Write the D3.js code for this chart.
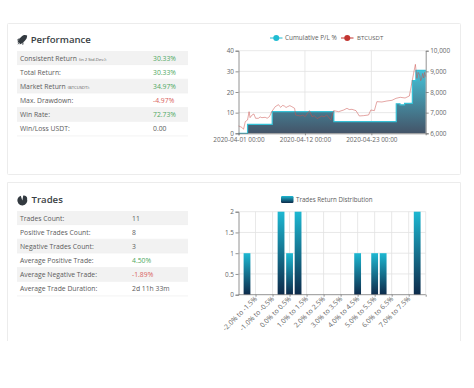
<!DOCTYPE html>
<html>
<head>
<meta charset="utf-8">
<script src="https://cdn.jsdelivr.net/npm/d3@7"></script>
<style>
  html, body { margin: 0; padding: 0; background: #fff; }
  svg { display: block; font-family: "Open Sans", sans-serif; }
  .axis text { font-size: 6.4px; fill: #666; font-family: "Open Sans", sans-serif; }
  .axis path, .axis line { stroke: #777; stroke-width: 0.8; }
  .grid line { stroke: #e2e2e2; stroke-width: 0.8; }
  .card { fill: #fff; stroke: #ececec; }
  .title { font-size: 9.6px; font-weight: 600; fill: #3a3f45; }
  .cell { font-size: 6.8px; fill: #5c5c5c; }
  .small { font-size: 4.2px; }
  .legend { font-size: 6.3px; fill: #5c5c5c; }
</style>
</head>
<body>
<svg id="chart" width="474" height="388"></svg>
<script>
// Data
const perfLabels = ['Consistent Return', 'Total Return:', 'Market Return', 'Max. Drawdown:', 'Win Rate:', 'Win/Loss USDT:'];
const perfNotes = ['(in 2 Std.Dev.):', '', '(BTCUSDT):', '', '', ''];
const perfValues = ['30.33%', '30.33%', '34.97%', '-4.97%', '72.73%', '0.00'];
const tradeLabels = ['Trades Count:', 'Positive Trades Count:', 'Negative Trades Count:', 'Average Positive Trade:', 'Average Negative Trade:', 'Average Trade Duration:'];
const tradeValues = ['11', '8', '3', '4.50%', '-1.89%', '2d 11h 33m'];

const plDates = ['2020-04-01 00:00', '2020-04-02 12:00', '2020-04-06 14:00', '2020-04-16 19:00', '2020-04-27 03:00', '2020-04-27 18:00', '2020-04-28 12:00', '2020-04-29 19:00', '2020-04-30 09:00', '2020-05-02 00:00'];
const plValues = [0, 4.3, 10.5, 5.7, 14.3, 13.8, 14.5, 25.5, 30.5, 30.5];

const btcDates = ['2020-04-01 00:00', '2020-04-01 07:00', '2020-04-01 13:00', '2020-04-01 20:00', '2020-04-02 03:00', '2020-04-02 12:00', '2020-04-02 18:00', '2020-04-02 22:00', '2020-04-03 06:00', '2020-04-03 13:00', '2020-04-03 20:00', '2020-04-04 07:00', '2020-04-04 14:00', '2020-04-04 21:00', '2020-04-05 10:00', '2020-04-05 18:00', '2020-04-06 03:00', '2020-04-06 12:00', '2020-04-07 02:00', '2020-04-07 15:00', '2020-04-07 20:00', '2020-04-08 00:00', '2020-04-08 07:00', '2020-04-08 14:00', '2020-04-08 21:00', '2020-04-09 03:00', '2020-04-09 12:00', '2020-04-09 20:00', '2020-04-10 07:00', '2020-04-10 11:00', '2020-04-11 05:00', '2020-04-11 15:00', '2020-04-12 01:00', '2020-04-12 18:00', '2020-04-13 04:00', '2020-04-13 14:00', '2020-04-14 00:00', '2020-04-14 19:00', '2020-04-15 04:00', '2020-04-15 15:00', '2020-04-16 07:00', '2020-04-16 18:00', '2020-04-17 14:00', '2020-04-18 10:00', '2020-04-18 23:00', '2020-04-19 08:00', '2020-04-19 19:00', '2020-04-20 11:00', '2020-04-21 00:00', '2020-04-21 17:00', '2020-04-22 13:00', '2020-04-22 22:00', '2020-04-23 12:00', '2020-04-23 22:00', '2020-04-24 18:00', '2020-04-25 14:00', '2020-04-26 10:00', '2020-04-27 02:00', '2020-04-27 19:00', '2020-04-28 14:00', '2020-04-29 07:00', '2020-04-29 14:00', '2020-04-30 00:00', '2020-04-30 07:00', '2020-04-30 13:00', '2020-04-30 18:00', '2020-05-01 00:00', '2020-05-01 04:00', '2020-05-01 07:00', '2020-05-01 12:00', '2020-05-01 16:00', '2020-05-01 20:00', '2020-05-02 00:00'];
const btcPrices = [6355, 6323, 6290, 6194, 6565, 6645, 7048, 6758, 6887, 6935, 6726, 6726, 6790, 6758, 6774, 6730, 6806, 7048, 7290, 7387, 7300, 7258, 7350, 7323, 7250, 7290, 7340, 7290, 7210, 6887, 6839, 6880, 6806, 7097, 6806, 6850, 6710, 6839, 6800, 6887, 6645, 7097, 7048, 7129, 7210, 7150, 7161, 7097, 6839, 6855, 6887, 7129, 7097, 7532, 7516, 7565, 7597, 7694, 7742, 7710, 7806, 8258, 8903, 9339, 8661, 8950, 8823, 8550, 8613, 8900, 8680, 8950, 8742];

const bins = ['-2.0% to -1.5%', '-1.5% to -1.0%', '-1.0% to -0.5%', '-0.5% to 0.0%', '0.0% to 0.5%', '0.5% to 1.0%', '1.0% to 1.5%', '1.5% to 2.0%', '2.0% to 2.5%', '2.5% to 3.0%', '3.0% to 3.5%', '3.5% to 4.0%', '4.0% to 4.5%', '4.5% to 5.0%', '5.0% to 5.5%', '5.5% to 6.0%', '6.0% to 6.5%', '6.5% to 7.0%', '7.0% to 7.5%', '7.5% to 8.0%', '8.0% to 8.5%'];
const binCounts = [1, 0, 0, 0, 2, 1, 2, 0, 0, 0, 0, 0, 0, 1, 0, 1, 1, 0, 0, 0, 2];

const svg = d3.select('#chart');
const defs = svg.append('defs');
const parse = d3.timeParse('%Y-%m-%d %H:%M');

// cards
svg.append('rect').attr('class', 'card').attr('x', 7.5).attr('y', 23.5).attr('width', 453).attr('height', 151).attr('rx', 1);
// second card has no bottom edge in the picture
svg.append('path').attr('class', 'card').attr('d', 'M7.5,341V182.5H460.5V341');

// tables
function drawTable(top, labels, notes, values, valueX) {
  const rowH = 14.15;
  const row = svg.append('g').selectAll('g').data(labels).join('g')
    .attr('transform', (d, i) => `translate(17, ${top + i * rowH})`);
  row.append('rect')
    .attr('width', 171).attr('height', rowH)
    .attr('fill', (d, i) => (i % 2 === 0 ? '#f2f2f2' : '#fff'));
  row.append('line')
    .attr('x2', 171).attr('y1', rowH).attr('y2', rowH)
    .attr('stroke', '#eee').attr('stroke-width', 0.7);
  const label = row.append('text').attr('class', 'cell').attr('x', 3).attr('y', 9.5).text((d) => d);
  label.append('tspan').attr('class', 'small').attr('dx', 2).text((d, i) => (notes ? notes[i] : ''));
  row.append('text').attr('class', 'cell').attr('x', valueX - 17).attr('y', 9.5)
    .text((d, i) => values[i])
    .style('fill', (d, i) => {
      const v = values[i];
      if (!v.endsWith('%')) return '#5c5c5c';
      return v.startsWith('-') ? '#d9605c' : '#4fa862';
    });
}
drawTable(51, perfLabels, perfNotes, perfValues, 153);
drawTable(211, tradeLabels, null, tradeValues, 132);

// titles and icons
svg.append('text').attr('class', 'title').attr('x', 30.7).attr('y', 43).text('Performance');
svg.append('text').attr('class', 'title').attr('x', 31.5).attr('y', 203).text('Trades');
// rocket
svg.append('path')
  .attr('transform', 'translate(17, 35) scale(0.75) translate(-17.5, -33.5)')
  .attr('d', 'M18 43 L21 38 L24 35 C26 33 29 33 31 34 C31 37 30 39 28 41 L25 44 L21 46 L21 44 Z M17.5 40 L21 37 L19 41 Z M24 46 L26 43 L26 46 Z M18 46 L19.5 44 L20.5 45 Z')
  .attr('fill', '#333a40');
// pie icon
const pieIcon = svg.append('g').attr('transform', 'translate(22.3, 200.5)').attr('fill', '#333a40');
pieIcon.append('path').attr('d', d3.arc()({ innerRadius: 0, outerRadius: 5, startAngle: 0.2, endAngle: Math.PI * 1.9 }));
pieIcon.append('path').attr('transform', 'translate(1.3, -1.3)').attr('d', d3.arc()({ innerRadius: 0, outerRadius: 3.6, startAngle: 0, endAngle: Math.PI / 2 }));

// performance chart
const left = 238.5, right = 425.7, top1 = 50.7, bottom1 = 133.3;
const tx = d3.scaleTime([parse(plDates[0]), parse('2020-05-02 00:00')], [left, right]);
const yPl = d3.scaleLinear([0, 40], [bottom1, top1]);
const yBtc = d3.scaleLinear([6000, 10000], [bottom1, top1]);
const xTicks = ['2020-04-01 00:00', '2020-04-12 00:00', '2020-04-23 00:00'].map(parse);

const g1 = svg.append('g');
g1.append('g').attr('class', 'grid').selectAll('line').data(yPl.ticks(4).slice(1)).join('line')
  .attr('x1', left).attr('x2', right).attr('y1', yPl).attr('y2', yPl);
g1.append('g').attr('class', 'grid').selectAll('line').data(xTicks.slice(1)).join('line')
  .attr('x1', tx).attr('x2', tx).attr('y1', top1).attr('y2', bottom1);

const plGrad = defs.append('linearGradient').attr('id', 'plGrad')
  .attr('gradientUnits', 'userSpaceOnUse')
  .attr('x1', 0).attr('x2', 0).attr('y1', yPl(30.5)).attr('y2', bottom1);
plGrad.append('stop').attr('offset', 0).attr('stop-color', '#45c2d8');
plGrad.append('stop').attr('offset', 1).attr('stop-color', '#445468');

const plData = plDates.map((d, i) => ({ date: parse(d), value: plValues[i] }));
g1.append('path').datum(plData)
  .attr('fill', 'url(#plGrad)')
  .attr('d', d3.area().curve(d3.curveStepAfter).x((d) => tx(d.date)).y0(bottom1).y1((d) => yPl(d.value)));
g1.append('path').datum(plData)
  .attr('fill', 'none').attr('stroke', '#35c0d5').attr('stroke-width', 1.2)
  .attr('d', d3.line().curve(d3.curveStepAfter).x((d) => tx(d.date)).y((d) => yPl(d.value)));

const btcData = btcDates.map((d, i) => ({ date: parse(d), value: btcPrices[i] }));
g1.append('path').datum(btcData)
  .attr('fill', 'none').attr('stroke', '#c9504c').attr('stroke-width', 0.6).attr('stroke-opacity', 0.85)
  .attr('d', d3.line().x((d) => tx(d.date)).y((d) => yBtc(d.value)));

g1.append('g').attr('class', 'axis').attr('transform', `translate(${left}, 0)`)
  .call(d3.axisLeft(yPl).ticks(4).tickSize(3).tickPadding(1.5));
g1.append('g').attr('class', 'axis').attr('transform', `translate(${right}, 0)`)
  .call(d3.axisRight(yBtc).ticks(4).tickSize(3).tickPadding(1.5).tickFormat(d3.format(',')));
g1.append('g').attr('class', 'axis').attr('transform', `translate(0, ${bottom1})`)
  .call(d3.axisBottom(tx).tickValues(xTicks).tickSize(2).tickPadding(2).tickFormat(d3.timeFormat('%Y-%m-%d %H:%M')));

// legend performance
const legendNames = ['Cumulative P/L %', 'BTCUSDT'];
const legendColors = ['#1fbcd2', '#c23531'];
const legendX = [270, 341];
const legendTextX = [285, 357];
const lg = svg.append('g').selectAll('g').data(legendNames).join('g');
lg.append('line').attr('x1', (d, i) => legendX[i]).attr('x2', (d, i) => legendX[i] + 12.5).attr('y1', 38).attr('y2', 38)
  .attr('stroke', (d, i) => legendColors[i]).attr('stroke-width', 1);
lg.append('circle').attr('cx', (d, i) => legendX[i] + 6.25).attr('cy', 38).attr('r', 3).attr('fill', (d, i) => legendColors[i]);
lg.append('text').attr('class', 'legend').attr('x', (d, i) => legendTextX[i]).attr('y', 40.2)
  .style('font-size', (d, i) => (i === 0 ? '6.4px' : '6px')).text((d) => d);

// trades chart
const top2 = 211.7, bottom2 = 294.7;
const xBin = d3.scalePoint(bins, [left + 8.51, right - 8.51]);
const yBin = d3.scaleLinear([0, 2], [bottom2, top2]);
const barW = 6.8;
const labelled = bins.filter((d, i) => i % 2 === 0);

const g2 = svg.append('g');
g2.append('g').attr('class', 'grid').selectAll('line').data(yBin.ticks(4).slice(1)).join('line')
  .attr('x1', left).attr('x2', right).attr('y1', yBin).attr('y2', yBin);
g2.append('g').attr('class', 'grid').selectAll('line').data(labelled).join('line')
  .attr('x1', (d) => xBin(d) + xBin.step()).attr('x2', (d) => xBin(d) + xBin.step())
  .attr('y1', top2).attr('y2', bottom2);

const barGrad = defs.append('linearGradient').attr('id', 'barGrad').attr('x1', 0).attr('x2', 0).attr('y1', 0).attr('y2', 1);
barGrad.append('stop').attr('offset', 0).attr('stop-color', '#1db8d2');
barGrad.append('stop').attr('offset', 1).attr('stop-color', '#0d2a4a');

g2.append('g').selectAll('rect').data(bins.filter((d, i) => binCounts[i] > 0)).join('rect')
  .attr('x', (d) => xBin(d) - barW / 2)
  .attr('width', barW)
  .attr('y', (d) => yBin(binCounts[bins.indexOf(d)]))
  .attr('height', (d) => bottom2 - yBin(binCounts[bins.indexOf(d)]))
  .attr('fill', 'url(#barGrad)');

g2.append('g').attr('class', 'axis').attr('transform', `translate(${left}, 0)`)
  .call(d3.axisLeft(yBin).ticks(4).tickSize(3).tickPadding(1.5).tickFormat((d) => d));

const xAxis = g2.append('g').attr('class', 'axis')
  .attr('transform', `translate(${xBin.step()}, ${bottom2})`)
  .call(d3.axisBottom(xBin).tickValues(labelled).tickSize(2).tickFormat((d) => (d === bins[20] ? '' : d)));
xAxis.select('.domain').attr('d', `M${left - xBin.step()},0H${right - xBin.step()}`);
xAxis.selectAll('text')
  .style('font-size', '6.9px')
  .attr('text-anchor', 'end')
  .attr('transform', 'rotate(-45)')
  .attr('x', -2).attr('y', 2).attr('dy', '0.32em');

// legend trades
svg.append('rect').attr('x', 281).attr('y', 196).attr('width', 12.5).attr('height', 7).attr('rx', 1.2).attr('fill', 'url(#barGrad)');
svg.append('text').attr('class', 'legend').attr('x', 296).attr('y', 201.6).style('font-size', '6.2px').text('Trades Return Distribution');
</script>
</body>
</html>
